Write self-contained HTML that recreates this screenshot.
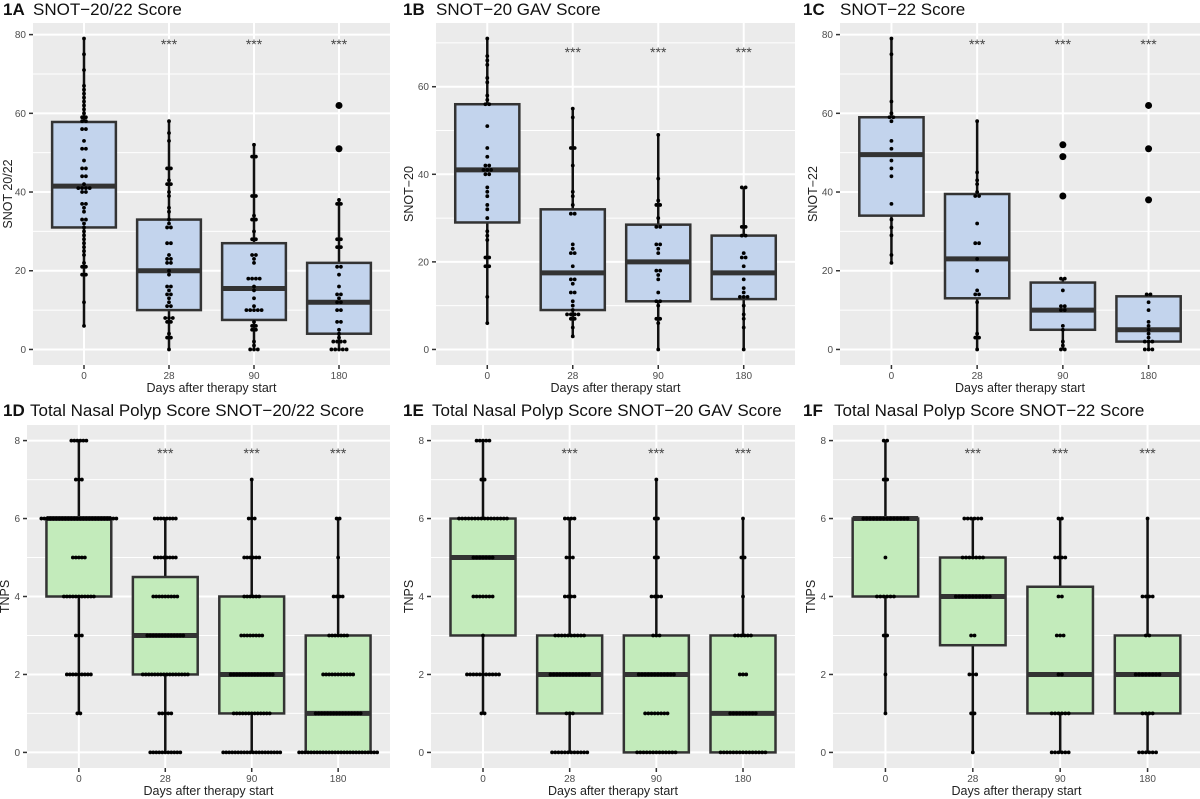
<!DOCTYPE html>
<html><head><meta charset="utf-8"><style>
html,body{margin:0;padding:0;background:#fff;}
svg{display:block;font-family:"Liberation Sans",sans-serif;}
</style></head><body>
<svg id="fig" width="1200" height="799" viewBox="0 0 1200 799" xmlns="http://www.w3.org/2000/svg"></svg>
<script>
const categories = ["0","28","90","180"];

const snot2022Points = [
 [79,75,71,67,66,65,64,63,62,61,60,59,59,58,58,56,56,53,51,51,48,46,46,44,44,42,41,41,41,41,40,40,37,37,36,35,33,33,32,31,30,29,28,27,26,25,24,22,21,21,19,19,12,6],
 [58,55,53,46,46,43,42,42,40,39,36,35,33,32,31,31,27,27,24,23,23,22,22,20,19,16,16,15,14,14,13,12,11,11,8,8,8,7,7,4,3,3,0],
 [52,49,49,39,39,34,33,33,30,28,28,24,24,23,22,18,18,18,18,16,15,13,11,10,10,10,10,10,7,6,6,5,5,2,1,0,0,0],
 [38,37,37,28,28,26,26,21,21,19,16,14,14,13,12,12,10,10,7,7,5,4,3,2,2,2,2,0,0,0,0,0]];
const snot2022Outliers = [[],[],[],[62,51]];
const snot2022Box = [[6,31,41.5,57.8,79],[0,10,20,33,58],[0,7.5,15.5,27,52],[0,4,12,22,38]];

const snot20Points = [
 [71,67,66,65,62,61,58,57,56,56,51,46,44,42,42,41,41,41,40,40,37,36,35,33,32,30,27,26,25,21,21,19,19,12,6],
 [55,53,46,46,42,36,35,33,31,31,24,23,22,22,19,16,16,15,13,13,11,10,9,8,8,8,8,7,7,5,3],
 [49,39,34,33,33,30,28,28,24,24,23,22,18,18,17,16,13,11,11,10,7,7,6,0],
 [37,37,28,28,26,26,22,21,21,19,16,14,13,12,12,12,10,8,7,5,0]];
const snot20Outliers = [[],[],[],[]];
const snot20Box = [[6,29,41,56,71],[3,9,17.5,32,55],[0,11,20,28.5,49],[0,11.5,17.5,26,37]];

const snot22Points = [
 [79,75,63,60,59,59,58,53,51,48,46,44,37,33,31,29,24,22],
 [58,45,43,42,40,39,39,32,27,27,23,20,15,14,14,12,4,3,3,0],
 [18,18,15,11,11,10,10,6,5,2,1,0,0],
 [14,14,12,10,7,6,5,4,3,2,2,2,0,0,0]];
const snot22Outliers = [[],[],[52,49,39],[62,51,38]];
const snot22Box = [[22,34,49.5,59,79],[0,13,23,39.5,58],[0,5,10,17,18],[0,2,5,13.5,14]];

const tnpsD = [[0,2,9,3,11,5,26,3,6],[11,5,16,13,9,8,8,0,0],[20,13,15,8,6,6,3,1,0],[27,16,11,7,4,1,2,0,0]];
const tnpsDBox = [[1,4,6,6,8],[0,2,3,4.5,6],[0,1,2,4,7],[0,0,1,3,6]];
const tnpsE = [[0,2,11,1,7,7,16,2,5],[12,3,13,10,4,3,4,0,0],[13,8,12,3,4,2,2,1,0],[15,9,3,6,1,2,1,0,0]];
const tnpsEBox = [[1,3,5,6,8],[0,1,2,3,6],[0,0,2,3,7],[0,0,1,3,6]];
const tnpsF = [[0,1,1,2,6,1,14,2,2],[1,2,3,2,11,7,6,0,0],[6,6,2,3,2,4,2,0,0],[6,4,8,2,4,0,1,0,0]];
const tnpsFBox = [[1,4,6,6,8],[0,2.75,4,5,6],[0,1,2,4.25,6],[0,1,2,3,6]];

const snotTicks = [0,20,40,60,80];
const snot20Ticks = [0,20,40,60];
const tnpsTicks = [0,2,4,6,8];
const tnpsValues = [0,1,2,3,4,5,6,7,8];

const NS="http://www.w3.org/2000/svg";
const svg=document.getElementById('fig');
function mk(tag,attrs,parent){const e=document.createElementNS(NS,tag);for(const k in attrs)e.setAttribute(k,attrs[k]);(parent||svg).appendChild(e);return e;}

function countsToPoints(counts){const out=[];counts.forEach((c,v)=>{for(let i=0;i<c;i++)out.push(tnpsValues[v]);});return out;}

function drawPanel(p){
  const g=mk('g',{});
  
  
  const L=p.left,R=p.right,T=p.top,B=p.bottom;
  const dmin=p.dmin,dmax=p.dmax,pad=(dmax-dmin)*0.05;
  const y=v=>T+(dmax+pad-v)/(dmax-dmin+2*pad)*(B-T);
  const step=(R-L)/4.2;
  const x=i=>L+step*(0.6+i);
  const bg=mk('rect',{x:L,y:T,width:R-L,height:B-T,fill:'#ebebeb'},g);
  
  const tk=p.ticks, dt=tk[1]-tk[0];
  for(let v=tk[0]-dt/2; v<=dmax+pad; v+=dt){ if(v<dmin-pad) continue; const l=mk('line',{x1:L,x2:R,y1:y(v),y2:y(v),stroke:'#fff','stroke-width':1},g);}
  tk.forEach(v=>{const l=mk('line',{x1:L,x2:R,y1:y(v),y2:y(v),stroke:'#fff','stroke-width':2},g);
    const tl=mk('text',{x:L-7,y:y(v)+3.5,'text-anchor':'end','font-size':10,fill:'#4d4d4d'},g);tl.textContent=v;
    mk('line',{x1:L-4,x2:L,y1:y(v),y2:y(v),stroke:'#333','stroke-width':1.5},g);});
  categories.forEach((c,i)=>{const l=mk('line',{x1:x(i),x2:x(i),y1:T,y2:B,stroke:'#fff','stroke-width':2},g);
    mk('line',{x1:x(i),x2:x(i),y1:B,y2:B+4,stroke:'#333','stroke-width':1.5},g);
    const tl=mk('text',{x:x(i),y:B+14,'text-anchor':'middle','font-size':10,fill:'#4d4d4d'},g);tl.textContent=c;});
  const bw=step*0.75;
  p.box.forEach((b,i)=>{
    const w=mk('line',{x1:x(i),x2:x(i),y1:y(b[0]),y2:y(b[4]),stroke:'#111','stroke-width':2.5},g);
    const r=mk('rect',{x:x(i)-bw/2,y:y(b[3]),width:bw,height:y(b[1])-y(b[3]),fill:p.fill,stroke:'#333','stroke-width':2.5},g);
    const m=mk('line',{x1:x(i)-bw/2,x2:x(i)+bw/2,y1:y(b[2]),y2:y(b[2]),stroke:'#333','stroke-width':5},g);
  });
  p.points.forEach((pts,i)=>{
    const groups={};pts.forEach(v=>{groups[v]=(groups[v]||0)+1;});
    Object.keys(groups).forEach(k=>{const n=groups[k],v=+k;for(let j=0;j<n;j++){const cx=x(i)+(j-(n-1)/2)*p.dotStep;
      const d=mk('circle',{cx:cx,cy:y(v),r:1.9,fill:'#000'},g);}});
  });
  (p.outliers||[]).forEach((o,i)=>o.forEach(v=>{const d=mk('circle',{cx:x(i),cy:y(v),r:3.5,fill:'#000'},g);}));
  for(let i=1;i<4;i++){const s=mk('text',{x:x(i),y:T+p.starY+3,'text-anchor':'middle','font-size':14,fill:'#444'},g);s.textContent='***';}
  const xt=mk('text',{x:(L+R)/2,y:B+27,'text-anchor':'middle','font-size':12.5,fill:'#222'},g);xt.textContent='Days after therapy start';
  const yc=(T+B)/2;
  const yt=mk('text',{x:p.ylabX,y:yc,'text-anchor':'middle','font-size':12.5,fill:'#222',transform:`rotate(-90 ${p.ylabX} ${yc})`},g);yt.textContent=p.ylab;
  const tg=mk('text',{x:p.ox+3,y:p.titleY,'font-size':17,fill:'#111'},g);
  
  const ts=mk('tspan',{'font-weight':'bold'},tg);ts.textContent=p.id;
  const ts2=mk('tspan',{x:p.ox+p.titleX},tg);ts2.textContent=p.title;
}
const blue='#c3d4ed', green='#c3ebbb';
drawPanel({id:'1A',title:'SNOT\u221220/22 Score',ox:0,titleX:33,titleY:15,left:33,right:390,top:23,bottom:365,dmin:0,dmax:79,ticks:snotTicks,points:snot2022Points,outliers:snot2022Outliers,box:snot2022Box,fill:blue,ylab:'SNOT 20/22',ylabX:12,starY:23,dotStep:3.8});
drawPanel({id:'1B',title:'SNOT\u221220 GAV Score',ox:400,titleX:36,titleY:15,left:436,right:795,top:23,bottom:365,dmin:0,dmax:71,ticks:snot20Ticks,points:snot20Points,outliers:snot20Outliers,box:snot20Box,fill:blue,ylab:'SNOT\u221220',ylabX:413,starY:31,dotStep:3.8});
drawPanel({id:'1C',title:'SNOT\u221222 Score',ox:800,titleX:40,titleY:15,left:840,right:1200,top:23,bottom:365,dmin:0,dmax:79,ticks:snotTicks,points:snot22Points,outliers:snot22Outliers,box:snot22Box,fill:blue,ylab:'SNOT\u221222',ylabX:817,starY:23,dotStep:3.8});
drawPanel({id:'1D',title:'Total Nasal Polyp Score SNOT\u221220/22 Score',ox:0,titleX:30,titleY:416,left:27,right:390,top:425,bottom:768,dmin:0,dmax:8,ticks:tnpsTicks,points:tnpsD.map(countsToPoints),outliers:[],box:tnpsDBox,fill:green,ylab:'TNPS',ylabX:9,starY:30,dotStep:3.0});
drawPanel({id:'1E',title:'Total Nasal Polyp Score SNOT\u221220 GAV Score',ox:400,titleX:32,titleY:416,left:431,right:795,top:425,bottom:768,dmin:0,dmax:8,ticks:tnpsTicks,points:tnpsE.map(countsToPoints),outliers:[],box:tnpsEBox,fill:green,ylab:'TNPS',ylabX:413,starY:30,dotStep:3.2});
drawPanel({id:'1F',title:'Total Nasal Polyp Score SNOT\u221222 Score',ox:800,titleX:34,titleY:416,left:833,right:1200,top:425,bottom:768,dmin:0,dmax:8,ticks:tnpsTicks,points:tnpsF.map(countsToPoints),outliers:[],box:tnpsFBox,fill:green,ylab:'TNPS',ylabX:815,starY:30,dotStep:3.4});
</script>
</body></html>
